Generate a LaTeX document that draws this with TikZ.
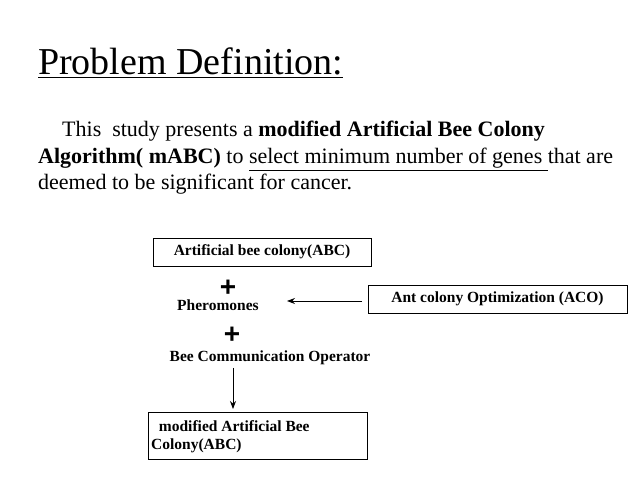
\documentclass[tikz,border=0pt]{standalone}
\usepackage{fontspec}
\setmainfont{Liberation Serif}
\setsansfont{Liberation Sans}
\usetikzlibrary{arrows.meta}
\begin{document}
\begin{tikzpicture}[x=1pt,y=-1pt,
  bx/.style={draw,line width=0.6pt,inner sep=0pt,font=\fontsize{15.5}{18}\selectfont\bfseries},
  lbl/.style={font=\fontsize{15.5}{18}\selectfont\bfseries},
  pl/.style={font=\fontsize{28}{28}\selectfont\bfseries\sffamily},
  arr/.style={-{Stealth[length=8pt,width=6pt]},line width=0.8pt}]
\useasboundingbox (0,0) rectangle (638,478);
\node[anchor=base west,inner sep=0pt,font=\fontsize{38}{40}\selectfont] (title) at (38,75) {\underline{Problem Definition:}};
\node[anchor=base west,inner sep=0pt,font=\fontsize{22}{26}\selectfont] (p1) at (62,137) {This\ \ study presents a \textbf{modified Artificial Bee Colony}};
\node[anchor=base west,inner sep=0pt,font=\fontsize{22}{26}\selectfont] (p2) at (38,164) {\textbf{Algorithm( mABC)} to \underline{select minimum number of genes }that are};
\node[anchor=base west,inner sep=0pt,font=\fontsize{22}{26}\selectfont] (p3) at (38,190) {deemed to be significant for cancer.};
\node[bx,minimum width=218pt,minimum height=28pt] (abc) at (262,252) {Artificial bee colony(ABC)};
\node[pl] (plus1) at (228,288) {+};
\node[lbl] (pher) at (218,305) {Pheromones};
\node[bx,minimum width=259pt,minimum height=28pt] (aco) at (497.5,299) {Ant colony Optimization (ACO)};
\coordinate (acoL) at (362,301);
\coordinate (pherR) at (287,301);
\draw[arr] (acoL) -- (pherR);
\node[pl] (plus2) at (232,335) {+};
\node[lbl] (bco) at (270,358) {Bee Communication Operator};
\coordinate (bcoB) at (233,368);
\draw[arr] (bcoB) -- (233,409) coordinate (mtop);
\draw[line width=0.6pt] (148,412) rectangle (367,459);
\node[lbl,anchor=north west,align=left,inner sep=0pt] (mabc) at (151,420) {\ \ modified Artificial Bee\\Colony(ABC)};
\end{tikzpicture}
\end{document}
